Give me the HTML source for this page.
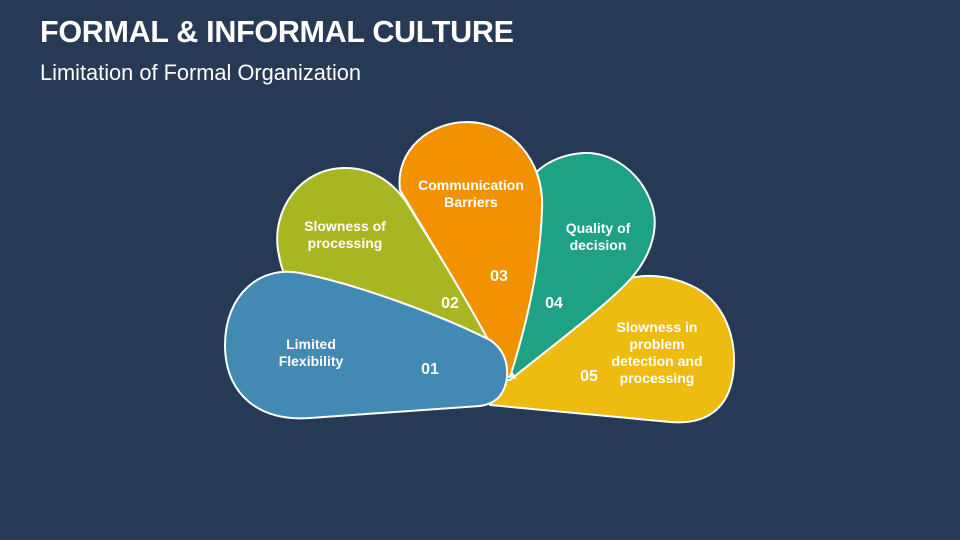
<!DOCTYPE html>
<html><head><meta charset="utf-8"><style>
html,body{margin:0;padding:0;}
body{width:960px;height:540px;background:#263a55;overflow:hidden;position:relative;font-family:"Liberation Sans",sans-serif;}
.t{position:absolute;left:40px;top:15px;color:#fff;font-weight:bold;font-size:30.5px;letter-spacing:-0.3px;}
.s{position:absolute;left:40px;top:60px;color:#fff;font-size:21.8px;}
svg{position:absolute;left:0;top:0;}
text{font-family:"Liberation Sans",sans-serif;fill:#fff;font-weight:bold;font-size:14px;text-anchor:middle;}
.n{font-size:16px;}
</style></head><body>
<div class="t">FORMAL &amp; INFORMAL CULTURE</div>
<div class="s">Limitation of Formal Organization</div>
<svg width="960" height="540" viewBox="0 0 960 540">
<g stroke="#fff" stroke-width="2" stroke-linejoin="round">
<path fill="#eebb10" d="M490,405 L508,372 L620,281 C645,272 670,276 690,285 C725,300 738,340 733,375 C728,410 705,425 670,422 L490,405 Z"/>
<path fill="#1fa284" d="M510,380 C560,340 600,310 625,285 C650,260 660,230 652,205 C640,170 610,152 585,153 C560,154 540,165 530,180 C520,250 510,330 505,380 Z"/>
<path fill="#a8b622" d="M515,378 L405,200 C390,180 370,168 345,168 C300,168 272,210 278,250 C280,262 282,270 285,275 Z"/>
<path fill="#f39200" d="M507,377 C480,320 430,240 400,190 C395,150 430,122 467,122 C510,122 545,160 542,210 C540,270 525,330 510,377 Z"/>
<path fill="#428ab4" d="M507,377 C505,395 495,404 480,406 L310,418 C260,422 225,395 225,345 C225,295 260,265 300,273 C360,285 440,315 490,340 C505,350 508,365 507,377 Z"/>
</g>
<text x="345" y="231">Slowness of</text><text x="345" y="248">processing</text>
<text x="471" y="190">Communication</text><text x="471" y="207">Barriers</text>
<text x="598" y="233">Quality of</text><text x="598" y="250">decision</text>
<text x="657" y="332">Slowness in</text><text x="657" y="349">problem</text><text x="657" y="366">detection and</text><text x="657" y="383">processing</text>
<text x="311" y="349">Limited</text><text x="311" y="366">Flexibility</text>
<text class="n" x="430" y="374">01</text>
<text class="n" x="450" y="308">02</text>
<text class="n" x="499" y="281">03</text>
<text class="n" x="554" y="308">04</text>
<text class="n" x="589" y="381">05</text>
</svg>
</body></html>
